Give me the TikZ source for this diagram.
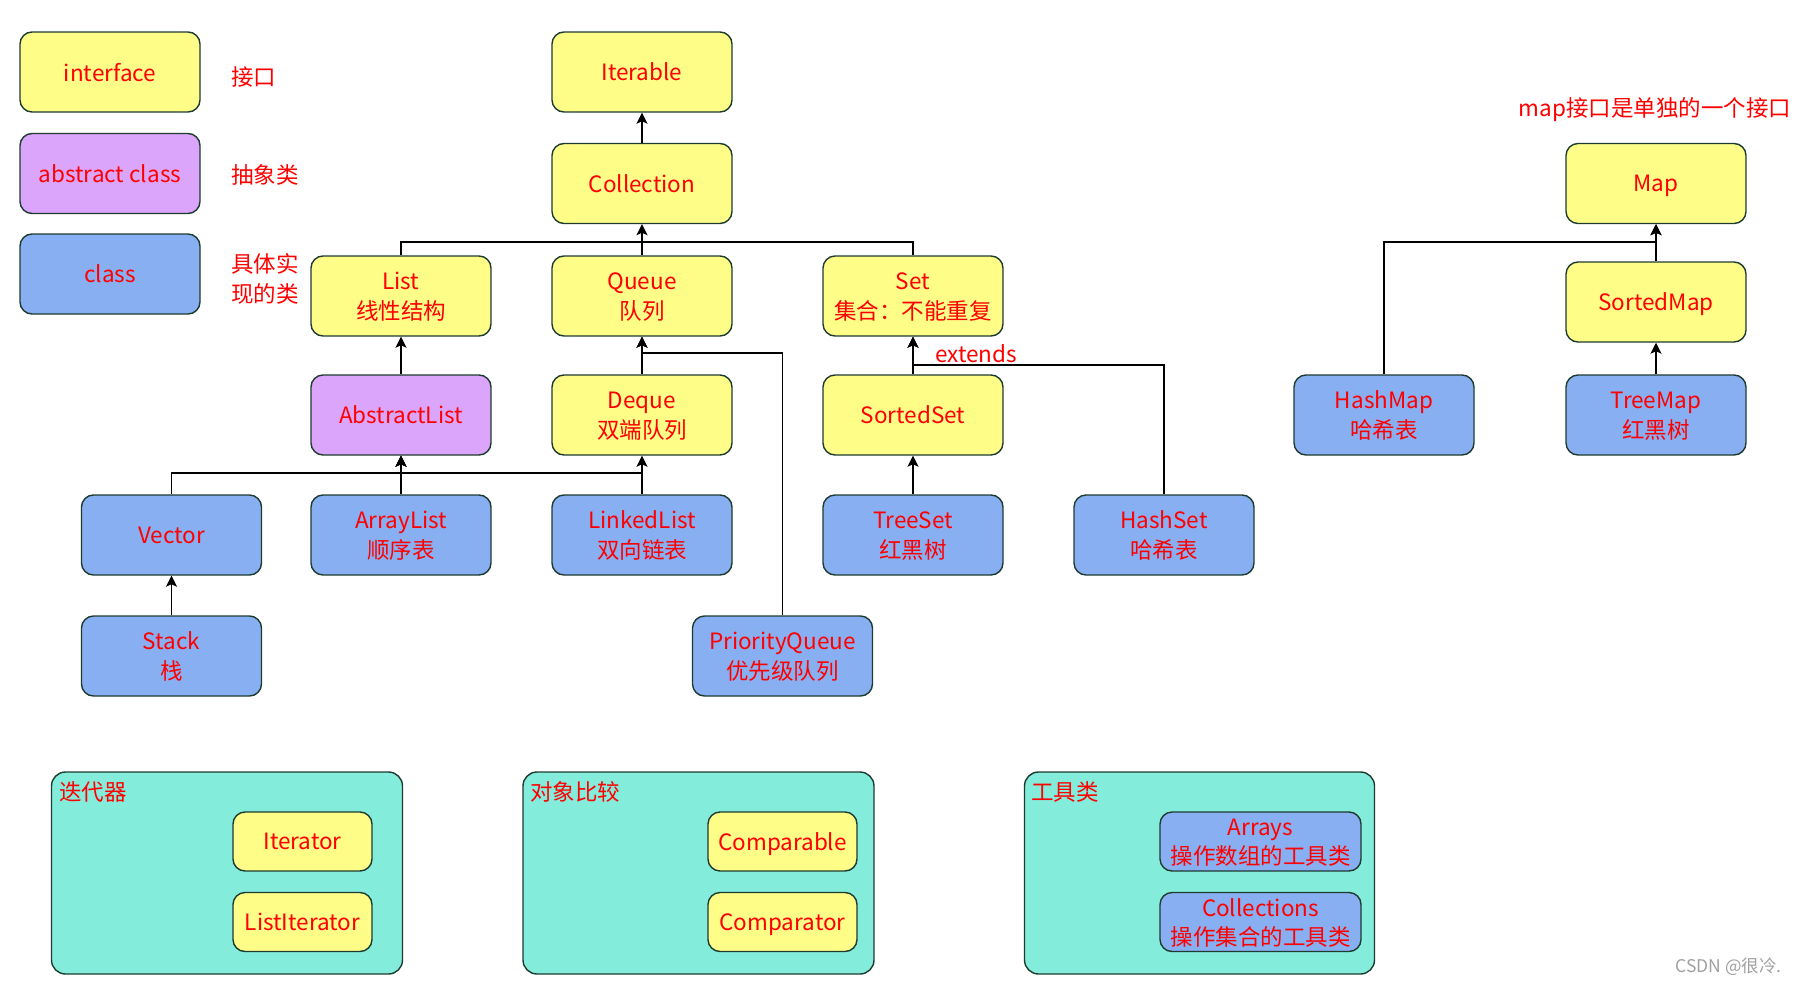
\documentclass[tikz,border=0pt]{standalone}
\usepackage{fontspec}
\setmainfont{Noto Sans CJK SC}
\usetikzlibrary{arrows.meta}
\definecolor{cyel}{HTML}{FDFD88}
\definecolor{cpur}{HTML}{DBA5FB}
\definecolor{cblu}{HTML}{88AFF1}
\definecolor{cteal}{HTML}{84ECDB}
\definecolor{cedge}{HTML}{1E3B30}
\definecolor{cwm}{HTML}{A0A0A0}
\begin{document}
\begin{tikzpicture}[x=1pt,y=-1pt,
  base/.style={draw=cedge, line width=1.4pt, rounded corners=12pt, inner sep=0pt, align=center, text=red, text depth=0pt, font=\fontsize{22.5}{30}\selectfont},
  box/.style={base, minimum width=180pt, minimum height=80pt},
  ibox/.style={box, fill=cyel},
  abox/.style={box, fill=cpur},
  cbox/.style={box, fill=cblu},
  grp/.style={draw=cedge, line width=1.4pt, rounded corners=14pt, fill=cteal, minimum width=351pt, minimum height=202pt},
  lbl/.style={text=red, font=\fontsize{22.5}{30}\selectfont, align=center, inner sep=0pt},
  conn/.style={line width=1.9pt, draw=black},
  arr/.style={conn, -{Stealth[length=11pt,width=11pt,inset=2.5pt]}}
]
\useasboundingbox (0,0) rectangle (1799,985);
% legend
\node[ibox] (lint) at (110,72) {interface};
\node[abox] (labs) at (110,173.5) {abstract class};
\node[cbox] (lcls) at (110,274) {class};
\node[lbl, anchor=west] (tint) at (231,77) {接口};
\node[lbl, anchor=west] (tabs) at (231,175) {抽象类};
\node[lbl, anchor=west] (tcls) at (231,279) {具体实\\现的类};
% collection hierarchy
\node[ibox] (iterable) at (642,72) {Iterable};
\node[ibox] (collection) at (642,183.5) {Collection};
\node[ibox] (list) at (401,296) {List\\线性结构};
\node[ibox] (queue) at (642,296) {Queue\\队列};
\node[ibox] (set) at (913,296) {Set\\集合：不能重复};
\node[abox] (abslist) at (401,415) {AbstractList};
\node[ibox] (deque) at (642,415) {Deque\\双端队列};
\node[ibox] (sortedset) at (913,415) {SortedSet};
\node[cbox] (vector) at (171.5,535) {Vector};
\node[cbox] (arraylist) at (401,535) {ArrayList\\顺序表};
\node[cbox] (linkedlist) at (642,535) {LinkedList\\双向链表};
\node[cbox] (treeset) at (913,535) {TreeSet\\红黑树};
\node[cbox] (hashset) at (1164,535) {HashSet\\哈希表};
\node[cbox] (stack) at (171.5,656) {Stack\\栈};
\node[cbox] (pq) at (782.5,656) {PriorityQueue\\优先级队列};
% map hierarchy
\node[lbl] (mapnote) at (1655,110) {map接口是单独的一个接口};
\node[ibox] (map) at (1656,183.5) {Map};
\node[ibox] (sortedmap) at (1656,302) {SortedMap};
\node[cbox] (hashmap) at (1384,415) {HashMap\\哈希表};
\node[cbox] (treemap) at (1656,415) {TreeMap\\红黑树};
% connectors
\coordinate (b1) at (642,242);
\coordinate (b2) at (642,353);
\coordinate (b3) at (401,473);
\coordinate (b4) at (913,365);
\coordinate (b5) at (1656,242);
\draw[arr] (collection) -- (iterable);
\draw[conn] (list.north) |- (b1);
\draw[conn] (set.north) |- (b1);
\draw[arr] (queue) -- (collection);
\draw[arr] (abslist) -- (list);
\draw[arr] (deque) -- (queue);
\draw[arr] (pq.north) |- (b2) -- (queue.south);
\draw[arr] (vector.north) |- (b3) -- (abslist.south);
\draw[arr] (arraylist) -- (abslist);
\draw[arr] (linkedlist.north) |- (b3) -- (abslist.south);
\draw[arr] (linkedlist) -- (deque);
\draw[arr] (stack) -- (vector);
\draw[arr] (sortedset) -- (set);
\draw[arr] (hashset.north) |- (b4) -- (set.south);
\draw[arr] (treeset) -- (sortedset);
\node[lbl, anchor=west] (ext) at (935,354) {extends};
\draw[arr] (sortedmap) -- (map);
\draw[arr] (hashmap.north) |- (b5) -- (map.south);
\draw[arr] (treemap) -- (sortedmap);
% groups
\node[grp] (g1) at (227,873) {};
\node[lbl, anchor=north west] (g1t) at (59,781) {迭代器};
\node[base, fill=cyel, minimum width=139pt, minimum height=59pt] (iterator) at (302.5,841.5) {Iterator};
\node[base, fill=cyel, minimum width=139pt, minimum height=59pt] (listiter) at (302.5,922) {ListIterator};
\node[grp] (g2) at (698.5,873) {};
\node[lbl, anchor=north west] (g2t) at (530,781) {对象比较};
\node[base, fill=cyel, minimum width=149pt, minimum height=59pt] (comparable) at (782.5,841.5) {Comparable};
\node[base, fill=cyel, minimum width=149pt, minimum height=59pt] (comparator) at (782.5,922) {Comparator};
\node[grp, minimum width=350pt] (g3) at (1199.5,873) {};
\node[lbl, anchor=north west] (g3t) at (1031,781) {工具类};
\node[base, fill=cblu, minimum width=201pt, minimum height=59pt, font=\fontsize{22.5}{29}\selectfont] (arrays) at (1260.5,841.5) {Arrays\\操作数组的工具类};
\node[base, fill=cblu, minimum width=201pt, minimum height=59pt, font=\fontsize{22.5}{29}\selectfont] (colls) at (1260.5,922) {Collections\\操作集合的工具类};
% watermark
\node[anchor=east, text=cwm, inner sep=0pt, font=\fontsize{17.5}{19}\selectfont] (wm) at (1782,967) {CSDN @很冷.};
\end{tikzpicture}
\end{document}
